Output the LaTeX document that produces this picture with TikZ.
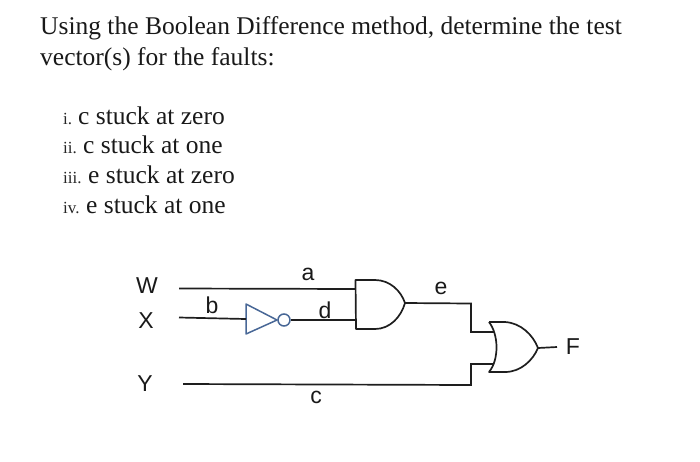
\documentclass[tikz,border=0pt]{standalone}
\usepackage{fontspec}
\setmainfont{Liberation Serif}
\setsansfont{Liberation Sans}
\definecolor{blue1}{RGB}{72, 103, 150}
\definecolor{wire1}{RGB}{30, 30, 30}
\tikzset{
  txt/.style={anchor=base west, inner sep=0pt, text=black!90, font=\fontsize{25.5}{25.5}\selectfont},
  num/.style={anchor=base west, inner sep=0pt, text=black!85, font=\fontsize{17}{17}\selectfont},
  lbl/.style={inner sep=0pt, text=black!90, font=\sffamily\fontsize{23}{23}\selectfont},
  gate/.style={draw=wire1, line width=1.7pt, line join=round},
  wire/.style={draw=wire1, line width=1.7pt}
}
\begin{document}
\begin{tikzpicture}[x=1pt, y=-1pt]
  \useasboundingbox (0,0) rectangle (700,461);

  \node[txt] (l1) at (40,34) {Using the Boolean Difference method, determine the test};
  \node[txt] (l2) at (40,65) {vector(s) for the faults:};

  \node[num] (n1) at (63,124) {i.};
  \node[txt] (t1) at (78,124) {c stuck at zero};
  \node[num] (n2) at (63,153) {ii.};
  \node[txt] (t2) at (83,153) {c stuck at one};
  \node[num] (n3) at (63,183) {iii.};
  \node[txt] (t3) at (88,183) {e stuck at zero};
  \node[num] (n4) at (63,213) {iv.};
  \node[txt] (t4) at (86,213) {e stuck at one};

  \node[lbl] (W) at (147,286) {W};
  \node[lbl] (X) at (146,321) {X};
  \node[lbl] (Y) at (145,384) {Y};
  \node[lbl] (a) at (308,274) {a};
  \node[lbl] (b) at (212,305) {b};
  \node[lbl] (d) at (325,310) {d};
  \node[lbl] (c) at (316,397) {c};
  \node[lbl] (e) at (441,288) {e};
  \node[lbl] (F) at (573,347) {F};

  % inverter
  \coordinate (invin) at (246,319);
  \draw[draw=blue1, line width=1.5pt, line join=round] (246,304) -- (277,320) -- (246,334) -- cycle;
  \node[circle, draw=blue1, line width=1.5pt, minimum size=12pt, inner sep=0pt] (bub) at (284,320) {};

  % and gate
  \coordinate (andin1) at (355.5,289);
  \coordinate (andin2) at (355.5,320);
  \coordinate (andout) at (405,303);
  \draw[gate] (355.5,280) -- (375,280) .. controls (390,280) and (401,291) .. (andout)
    .. controls (401,317) and (390,329) .. (375,329) -- (356,329) -- cycle;

  % or gate
  \coordinate (orin1) at (494,332);
  \coordinate (orin2) at (494,364);
  \coordinate (orout) at (538,348);
  \draw[gate] (489,322) -- (505,322) .. controls (521,323) and (533,335) .. (orout)
    .. controls (533,360) and (521,372) .. (505,372) -- (489,372)
    .. controls (499,360) and (499,335) .. (489,322);

  \coordinate (wa) at (179,288.5);
  \coordinate (xb) at (179,317.5);
  \coordinate (yc) at (183,384);
  \coordinate (eb) at (471,303.5);
  \coordinate (et) at (471,332);
  \coordinate (cb) at (471,385);
  \coordinate (ct) at (471,364);
  \coordinate (fout) at (557,347);

  \foreach \from/\to in {wa/andin1, xb/invin, bub/andin2, orout/fout}
    \draw[wire] (\from) -- (\to);
  \draw[wire] (andout) -- (eb) -- (et) -- (orin1);
  \draw[wire] (yc) -- (cb) -- (ct) -- (orin2);
\end{tikzpicture}
\end{document}
